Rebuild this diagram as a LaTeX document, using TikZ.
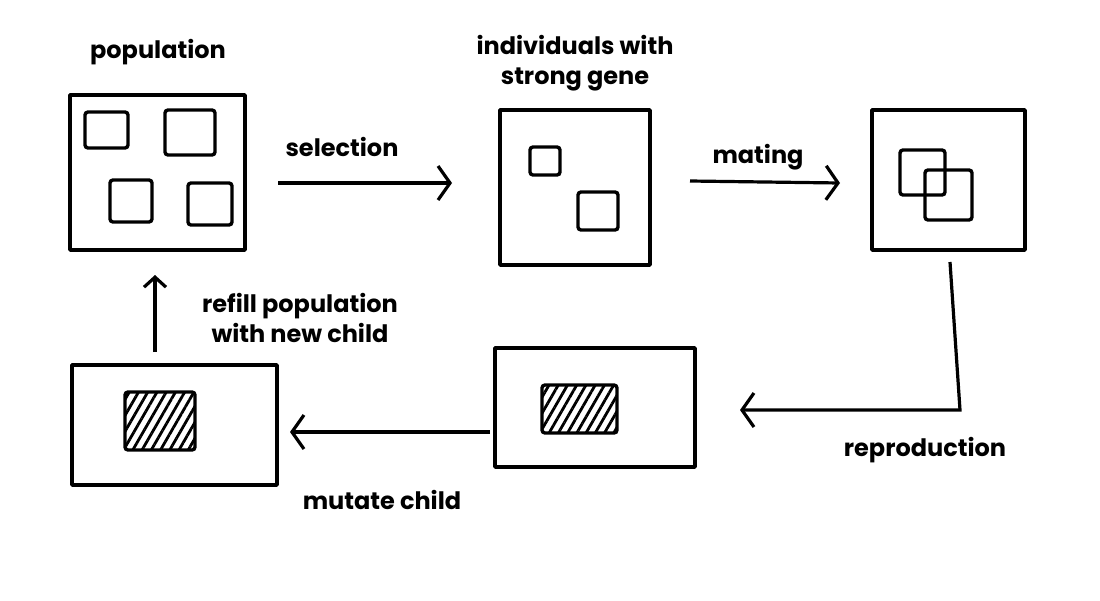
\documentclass[tikz,border=0pt]{standalone}
\usepackage{fontspec}
\setmainfont{Poppins}
\usetikzlibrary{arrows.meta,patterns.meta}
\tikzset{
 box/.style={line width=3.6pt,line join=round},
 small/.style={line width=3.4pt,rounded corners=3pt},
 arr/.style={line width=3.2pt,-{Straight Barb[length=12pt,width=34pt,line width=3.2pt]}},
 lbl/.style={font=\bfseries\fontsize{24}{30}\selectfont,align=center,inner sep=0pt},
 hat/.style={small,pattern={Lines[angle=60,distance=8pt,line width=2.8pt]}}
}
\begin{document}
\begin{tikzpicture}[x=1pt,y=-1pt]
\useasboundingbox (0,0) rectangle (1100,600);
% boxes
\draw[box] (70,95) rectangle (245,250);
\draw[box] (500,110) rectangle (650,265);
\draw[box] (872,110) rectangle (1025,250);
\draw[box] (495,348) rectangle (695,467);
\draw[box] (72,365) rectangle (277,485);
% contents
\draw[small] (85,112) rectangle (128,148);
\draw[small] (165,110) rectangle (215,155);
\draw[small] (110,180) rectangle (152,222);
\draw[small] (188,183) rectangle (232,225);
\draw[small] (530,147) rectangle (560,175);
\draw[small] (578,192) rectangle (618,230);
\draw[small] (900,150) rectangle (945,195);
\draw[small] (925,170) rectangle (972,220);
\draw[hat] (542,385) rectangle (617,433);
\draw[hat] (125,392) rectangle (195,450);
% arrows
\coordinate (s1) at (278,183); \coordinate (s2) at (452,183);
\draw[arr] (s1) -- (s2);
\coordinate (m1) at (690,181); \coordinate (m2) at (840,183);
\draw[arr] (m1) -- (m2);
\coordinate (r1) at (950,262); \coordinate (r2) at (960,410); \coordinate (r3) at (740,410);
\draw[arr] (r1) -- (r2) -- (r3);
\coordinate (u1) at (490,432); \coordinate (u2) at (290,432);
\draw[arr] (u1) -- (u2);
\coordinate (f1) at (155,352); \coordinate (f2) at (155,275);
\draw[arr,-{Straight Barb[length=10pt,width=22pt,line width=3.2pt]}] (f1) -- (f2);
% labels
\node[lbl] (t1) at (158,52) {population};
\node[lbl] (t2) at (575,63) {individuals with\\strong gene};
\node[lbl] (t3) at (342,147) {selection};
\node[lbl] (t4) at (758,157) {mating};
\node[lbl] (t5) at (925,450) {reproduction};
\node[lbl] (t6) at (382,500) {mutate child};
\node[lbl] (t7) at (300,318) {refill population\\with new child};
\end{tikzpicture}
\end{document}
